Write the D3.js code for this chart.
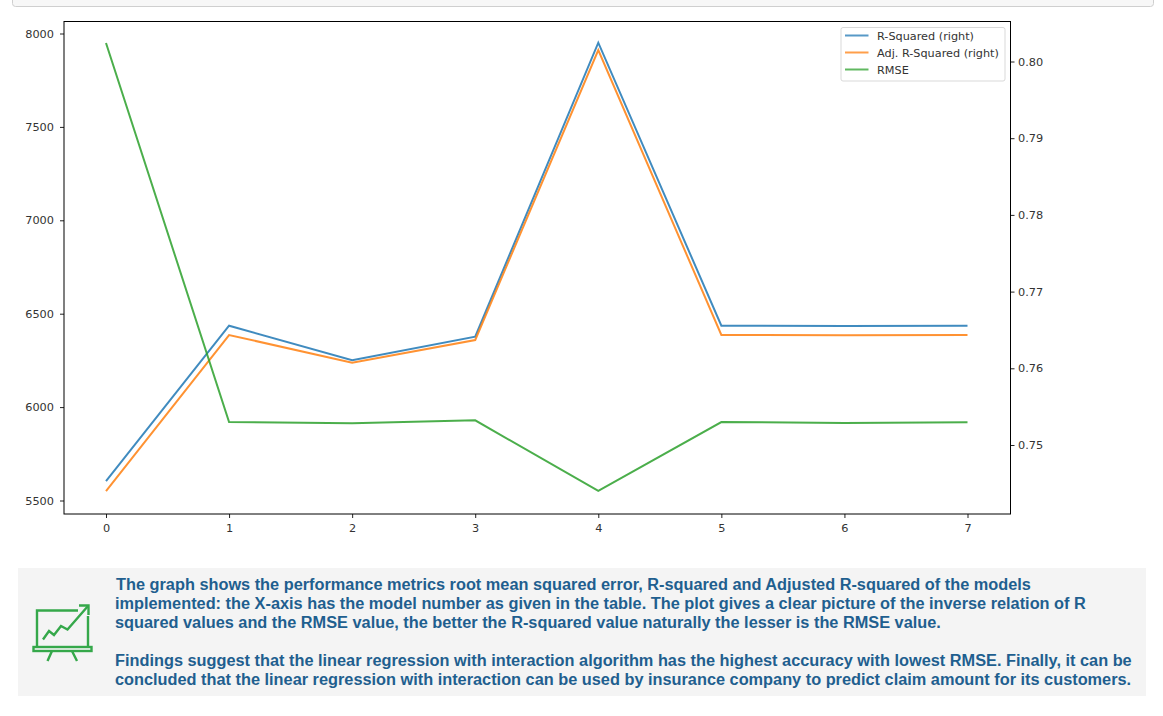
<!DOCTYPE html>
<html><head><meta charset="utf-8">
<script src="https://cdn.jsdelivr.net/npm/d3@7"></script>
<style>html,body{margin:0;padding:0;background:#fff}svg{display:block}</style>
</head><body><svg id="c" width="1163" height="716"></svg>
<script>
const models=[0,1,2,3,4,5,6,7];
const rSquared=[0.7453,0.76555,0.76104,0.76412,0.80245,0.76555,0.76552,0.76555];
const adjRSquared=[0.7440,0.76434,0.76073,0.76369,0.8015,0.76434,0.7643,0.76434];
const rmse=[7949,5920,5913,5929,5551,5920,5915,5919];
const leftTicks=[5500,6000,6500,7000,7500,8000];
const rightTicks=[0.75,0.76,0.77,0.78,0.79,0.80];
const legendLabels=["R-Squared (right)","Adj. R-Squared (right)","RMSE"];
const colors=["#1f77b4","#ff7f0e","#2ca02c"];
const noteLines=[
"The graph shows the performance metrics root mean squared error, R-squared and Adjusted R-squared of the models",
"implemented: the X-axis has the model number as given in the table. The plot gives a clear picture of the inverse relation of R",
"squared values and the RMSE value, the better the R-squared value naturally the lesser is the RMSE value.",
"",
"Findings suggest that the linear regression with interaction algorithm has the highest accuracy with lowest RMSE. Finally, it can be",
"concluded that the linear regression with interaction can be used by insurance company to predict claim amount for its customers."];

const svg=d3.select("#c");
const P={l:64,r:1010.5,t:21.5,b:514};
svg.append("rect").attr("x",12.5).attr("y",-6).attr("width",1141).attr("height",12.5).attr("rx",3)
  .attr("fill","#f7f7f7").attr("stroke","#cfcfcf");

const x=d3.scaleLinear().domain([0,7]).range([106,967.5]);
const yL=d3.scaleLinear().domain([5500,8000]).range([500.5,33.5]);
const yR=d3.scaleLinear().domain([0.75,0.80]).range([445,61.5]);
const font="'DejaVu Sans',sans-serif";

function style(g){
  g.select(".domain").remove();
  g.selectAll("line").attr("stroke","#222").attr("stroke-width",1);
  g.selectAll("text").attr("font-family",font).attr("font-size",11.3).attr("fill","#333");
}
svg.append("g").attr("transform",`translate(0,${P.b})`)
  .call(d3.axisBottom(x).tickValues(models).tickFormat(d3.format("d")).tickSize(4).tickPadding(6)).call(style);
svg.append("g").attr("transform",`translate(${P.l},0)`)
  .call(d3.axisLeft(yL).tickValues(leftTicks).tickFormat(d3.format("d")).tickSize(4).tickPadding(6)).call(style);
svg.append("g").attr("transform",`translate(${P.r},0)`)
  .call(d3.axisRight(yR).tickValues(rightTicks).tickFormat(d3.format(".2f")).tickSize(4).tickPadding(3.5)).call(style);

const series=[[rSquared,yR],[adjRSquared,yR],[rmse,yL]];
series.forEach(([vals,sc],i)=>{
  const line=d3.line().x((d,j)=>x(models[j])).y(d=>sc(d));
  svg.append("path").datum(vals).attr("d",line).attr("fill","none")
    .attr("stroke",colors[i]).attr("stroke-width",2).attr("stroke-opacity",0.85);
});
svg.append("rect").attr("x",P.l).attr("y",P.t).attr("width",P.r-P.l).attr("height",P.b-P.t)
  .attr("fill","none").attr("stroke","#000").attr("stroke-width",1);

const lg=svg.append("g");
lg.append("rect").attr("x",841).attr("y",27.5).attr("width",164).attr("height",53.5).attr("rx",2)
  .attr("fill","#fff").attr("fill-opacity",0.8).attr("stroke","#d9d9d9");
legendLabels.forEach((t,i)=>{
  const yy=35.5+i*17;
  lg.append("line").attr("x1",845).attr("x2",868.5).attr("y1",yy).attr("y2",yy)
    .attr("stroke",colors[i]).attr("stroke-width",2).attr("stroke-opacity",0.75);
  lg.append("text").attr("x",877).attr("y",yy+4).text(t)
    .attr("font-family",font).attr("font-size",11.25).attr("fill","#333");
});

svg.append("rect").attr("x",18).attr("y",568).attr("width",1128).attr("height",128).attr("fill","#f4f4f4");
const ic=svg.append("g").attr("fill","none").attr("stroke","#35a84a").attr("stroke-width",2.4);
ic.append("path").attr("d","M78 610.5H37V647M88 616V647");
ic.append("path").attr("d","M43 639.5L49 631L54 635L61 626L67.5 629.5L88 606");
ic.append("path").attr("d","M79 605.5H88.5V615");
ic.append("rect").attr("x",33.5).attr("y",647).attr("width",58).attr("height",4);
ic.append("path").attr("d","M52 651L47.5 661M72 651L77 661");

const by=[590,609,628,647,666,685];
noteLines.forEach((t,i)=>{ if(!t) return;
  svg.append("text").attr("x",i===0?116:115).attr("y",by[i]).text(t)
    .attr("font-family","'Liberation Sans',Arial,sans-serif").attr("font-weight","bold")
    .attr("font-size",16.32).attr("fill","#1f5f8f");
});
</script></body></html>
